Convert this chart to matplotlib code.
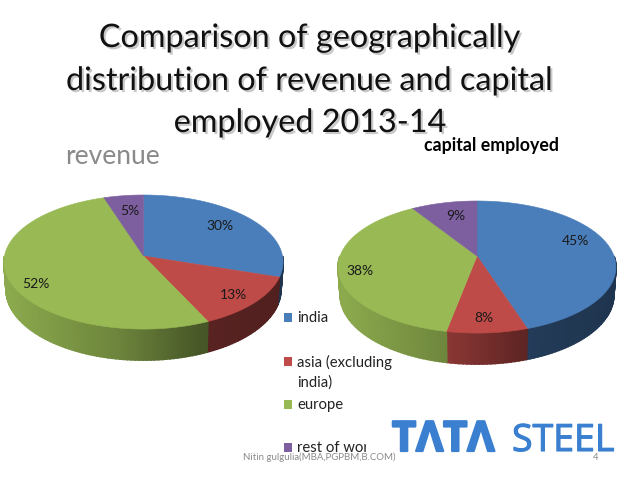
import numpy as np
import matplotlib
matplotlib.use('Agg')
import matplotlib.pyplot as plt
import matplotlib.patheffects as pe
from matplotlib.patches import Polygon, Rectangle

# values
categories = ['india', 'asia (excluding\nindia)', 'europe', 'rest of world']
revenue = [30, 13, 52, 5]
capital_employed = [45, 8, 38, 9]
colors = ['#4A7EBB', '#BE4B48', '#98B954', '#7D5FA0']

plt.rcParams['font.family'] = ['Lato', 'DejaVu Sans']

fig = plt.figure(figsize=(6.38, 4.79), dpi=100)
ax = fig.add_axes([0, 0, 1, 1])
ax.set_xlim(0, 638)
ax.set_ylim(479, 0)
ax.axis('off')


def project(t, cx, cy, rx, ry, k):
    # t is degrees clockwise from 12 o'clock, k tilts the disc towards the viewer
    a = np.radians(t)
    v = np.cos(a)
    d = 1 - k * v
    return rx * np.sin(a) / d, -ry * v / d


def shade(color, f):
    return tuple(c * f for c in matplotlib.colors.to_rgb(color))


def draw_pie(values, cx, cy, rx, ry, k):
    edges = np.cumsum([0] + values) * 3.6
    # side wall first, darker towards the right
    for i in range(len(values)):
        start = max(edges[i], 90)
        end = min(edges[i + 1], 270)
        if end <= start:
            continue
        steps = np.linspace(start, end, int((end - start) / 1.5) + 2)
        for t0, t1 in zip(steps[:-1], steps[1:]):
            x0, y0 = project(t0, cx, cy, rx, ry, k)
            x1, y1 = project(t1, cx, cy, rx, ry, k)
            d0 = 27 + 4 * max(-np.cos(np.radians(t0)), 0)
            d1 = 27 + 4 * max(-np.cos(np.radians(t1)), 0)
            f = np.interp((x0 + x1) / 2 / rx, [-1, -0.2, 0.4, 1], [0.92, 0.72, 0.47, 0.42])
            c = shade(colors[i], f)
            ax.add_patch(Polygon([(cx + x0, cy + y0), (cx + x1, cy + y1),
                                  (cx + x1 * 0.985, cy + y1 + d1), (cx + x0 * 0.985, cy + y0 + d0)],
                                 closed=True, facecolor=c, edgecolor=c, lw=1.2, zorder=2))
    # top surface
    for i in range(len(values)):
        ts = np.linspace(edges[i], edges[i + 1], 120)
        xs, ys = project(ts, cx, cy, rx, ry, k)
        pts = [(cx, cy)] + list(zip(cx + xs, cy + ys))
        ax.add_patch(Polygon(pts, closed=True, facecolor=colors[i], edgecolor=colors[i],
                             lw=0.4, zorder=3))


draw_pie(revenue, 143.5, 256, 139, 66.5, -0.09)
draw_pie(capital_employed, 477, 256, 137, 64.2, -0.167)

# data labels
rev_pos = [(220, 226), (233, 295), (36, 284), (130, 211)]
cap_pos = [(575, 241), (484, 318), (360, 271), (456, 216)]
for vals, pos in [(revenue, rev_pos), (capital_employed, cap_pos)]:
    for v, (x, y) in zip(vals, pos):
        ax.text(x, y, f'{v}%', fontsize=10, color='#1a1a1a', ha='center', va='center', zorder=5)

# title
title = ['Comparison of geographically', 'distribution of revenue and capital', 'employed 2013-14']
title_y = [38, 81, 123]
for line, y in zip(title, title_y):
    ax.text(310, y, line, fontsize=23.3, color='#111111', ha='center', va='center', zorder=6,
            path_effects=[pe.SimplePatchShadow(offset=(1.5, -1.5), alpha=0.22), pe.Normal()])

ax.text(65, 156, 'revenue', fontsize=19, color='#8a8a8a', ha='left', va='center', zorder=6)
ax.text(492, 146, 'capital employed', fontsize=12.8, fontweight='bold', color='black',
        ha='center', va='center', zorder=6)

# legend
legend_y = [317, 361, 404, 447]
for name, c, y in zip(categories, colors, legend_y):
    ax.add_patch(Rectangle((284, y - 4), 8, 8.5, facecolor=c, edgecolor='none', zorder=4))
    ax.text(297, y - 6, name, fontsize=10.7, color='#222222', ha='left', va='top',
            linespacing=1.5, zorder=4)

# logo hides the end of the last legend entry
ax.add_patch(Rectangle((366, 420), 260, 38, facecolor='white', edgecolor='none', zorder=5))
ax.text(392, 451, 'T\u039bT\u039b', fontsize=30, fontweight='bold', color='#3A7FD0',
        family=['Open Sans', 'DejaVu Sans'], ha='left', va='baseline', zorder=6,
        path_effects=[pe.withStroke(linewidth=1.6, foreground='#3A7FD0')])
ax.text(512, 451, 'STEEL', fontsize=27, color='#3A7FD0',
        family=['Open Sans', 'DejaVu Sans'], ha='left', va='baseline', zorder=6,
        path_effects=[pe.withStroke(linewidth=0.8, foreground='#3A7FD0')])

# footer
ax.text(243, 457, 'Nitin gulgulia(MBA,PGPBM,B.COM)', fontsize=6.9, color='#8a8a8a',
        ha='left', va='center', zorder=7)
ax.text(596, 457, '4', fontsize=6.9, color='#8a8a8a', ha='center', va='center', zorder=7)

fig.savefig('out.png', dpi=100)
